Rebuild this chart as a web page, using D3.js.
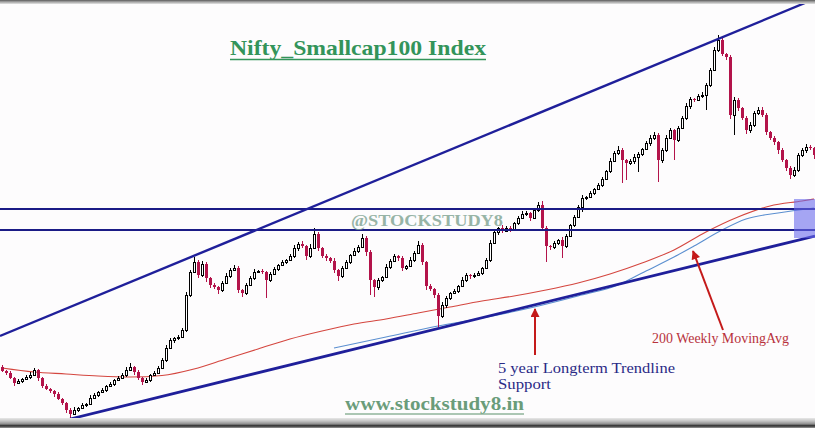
<!DOCTYPE html>
<html><head><meta charset="utf-8">
<script src="https://cdn.jsdelivr.net/npm/d3@7"></script>
<style>html,body{margin:0;padding:0;background:#fff;overflow:hidden}</style>
</head><body><svg id="c" width="815" height="428"></svg>
<script>
// Weekly closes (index points)
const closes = [2980,2940,2840,2740,2780,2820,2860,2900,3000,2840,
 2680,2620,2580,2520,2420,2340,2200,2120,2200,2240,
 2300,2320,2440,2500,2560,2600,2680,2720,2800,2840,
 2900,3000,3060,2960,2840,2760,2800,2900,2940,3040,
 3200,3440,3600,3640,3660,3800,4500,4960,5160,4900,
 5120,4840,4700,4660,4600,4740,4880,5000,5040,4600,
 4540,4700,4840,4960,4980,4960,4800,4920,5020,5100,
 5160,5200,5280,5440,5520,5480,5280,5440,5720,5440,
 5280,5240,5180,5000,4880,5040,5160,5300,5380,5460,
 5640,5360,4800,4660,4800,4860,5060,5180,5280,5240,
 5040,5080,5200,5340,5500,5160,4680,4620,4500,4080,
 4300,4440,4540,4580,4680,4800,4900,4880,4900,4940,
 5040,5200,5540,5760,5840,5780,5840,5800,5940,6040,
 6120,6140,6040,6200,6300,5840,5480,5460,5540,5600,
 5480,5680,5900,6060,6260,6440,6460,6540,6620,6700,
 6820,6980,7180,7340,7400,7200,7140,7180,7260,7320,
 7420,7540,7640,7700,7200,7400,7640,7800,7600,7840,
 8040,8280,8420,8400,8480,8500,8700,9000,9400,9600,
 9320,9260,8100,8400,8240,8040,7800,7900,8140,8200,
 8100,7760,7640,7560,7400,7200,7040,6900,7000,7300,
 7400,7460,7440,7300];
const firstOpen = 3060;
const upperWick = [40,20,40,20,40,20,40,60,40,20,
 20,40,20,20,40,20,20,40,60,20,
 40,20,60,40,20,40,20,40,20,40,
 40,60,80,20,40,20,40,20,40,40,
 40,60,40,20,40,40,60,40,100,40,
 60,40,20,40,20,40,60,40,60,40,
 20,40,40,60,20,40,20,40,40,20,
 40,20,40,60,40,60,20,80,120,40,
 20,40,20,60,20,40,40,20,60,40,
 80,40,40,20,40,20,60,40,40,20,
 40,20,60,40,80,40,20,40,20,40,
 60,40,20,40,20,60,40,20,40,40,
 20,40,60,40,20,60,40,40,20,40,
 60,40,20,40,60,80,40,20,40,20,
 60,40,20,40,40,60,20,40,20,40,
 40,20,60,40,80,40,20,40,60,40,
 20,40,60,60,40,40,60,40,20,40,
 40,60,40,20,40,60,40,40,60,100,
 40,20,40,60,40,20,40,60,40,60,
 60,40,20,40,20,40,20,40,60,40,
 40,60,40,20];
const lowerWick = [20,40,20,60,20,40,20,40,20,60,
 40,20,40,60,20,40,60,80,20,40,
 20,40,20,20,40,20,40,20,40,20,
 20,40,20,60,40,60,20,40,20,20,
 20,40,20,60,40,20,40,40,20,60,
 40,80,60,40,80,40,20,40,20,60,
 80,40,20,40,20,40,360,40,20,40,
 20,40,20,40,60,40,80,40,20,60,
 40,60,40,60,100,40,20,40,20,40,
 20,80,300,200,60,40,20,40,20,60,
 60,40,20,40,20,60,80,40,60,220,
 40,60,40,20,40,20,40,60,40,20,
 40,20,40,20,60,40,20,40,20,40,
 20,40,60,20,40,60,320,60,40,40,
 240,40,20,40,20,100,40,20,40,20,
 40,20,40,20,40,460,340,40,60,300,
 40,20,60,40,440,60,40,20,400,40,
 20,40,60,40,20,40,300,40,20,40,
 40,60,80,400,60,40,80,60,40,40,
 40,60,40,60,80,40,60,80,40,40,
 40,60,40,80];
// 200 weekly moving average (red)
const maWeeks  = [0,8,16,24,32,40,48,56,64,72,80,88,96,104,112,120,128,136,144,152,160,168,176,184,192,200,203];
const maValues = [3040,2960,2920,2880,2860,2890,3020,3220,3420,3620,3780,3920,4020,4140,4260,4380,4480,4600,4740,4920,5140,5400,5760,6060,6280,6380,6420];
// second (blue) moving average
const ma2Weeks  = [83,96,109,120,132,144,154,161,168,173,180,186,194,203];
const ma2Values = [3440,3660,3880,4040,4240,4480,4700,4980,5260,5480,5800,6020,6140,6240];
// drawn trendlines [week, level]
const supportLine = [[17,2020],[203.25,5680]];
const channelLine = [[-0.5,3680],[200.75,10340]];
const levels = [6220, 5800];
const zone = [[198,6420],[203.5,5640]];
const arrowSupport = [[133.25,3300],[133.25,4220]];
const arrowMA = [[180.25,3800],[172.75,5380]];

const svg = d3.select('#c');
const W = 815, H = 428;
const x = d3.scaleLinear().domain([0, closes.length-1]).range([2, 814]);
const y = d3.scaleLinear().domain([2040, 9640]).range([418, 38]);
const line = d3.line().x(d=>x(d[0])).y(d=>y(d[1]));

const defs = svg.append('defs');
defs.append('clipPath').attr('id','plot').append('rect').attr('x',0).attr('y',4).attr('width',W).attr('height',414);
const mk = defs.append('marker').attr('id','ah').attr('viewBox','0 0 10 10').attr('refX',9).attr('refY',5)
  .attr('markerWidth',5).attr('markerHeight',4.5).attr('orient','auto');
mk.append('path').attr('d','M0,0 L10,5 L0,10 z').attr('fill','#c41a1a');
const gt = defs.append('linearGradient').attr('id','gtop').attr('x1',0).attr('y1',0).attr('x2',0).attr('y2',1);
[[0,'#5a5a5a'],[0.4,'#9a9a9a'],[1,'#e4e4e4']].forEach(s=>gt.append('stop').attr('offset',s[0]).attr('stop-color',s[1]));
const gb = defs.append('linearGradient').attr('id','gbot').attr('x1',0).attr('y1',0).attr('x2',0).attr('y2',1);
[[0,'#e8e8e8'],[0.3,'#c4c4c4'],[0.6,'#8e8e8e'],[0.78,'#2a2a2a'],[0.9,'#6a6a6a'],[1,'#9a9a9a']].forEach(s=>gb.append('stop').attr('offset',s[0]).attr('stop-color',s[1]));

svg.append('rect').attr('width',W).attr('height',H).attr('fill','#fdfcfd');
const g = svg.append('g').attr('clip-path','url(#plot)');

// moving averages
g.append('path').datum(maWeeks.map((w,i)=>[w,maValues[i]])).attr('d',line.curve(d3.curveMonotoneX))
  .attr('fill','none').attr('stroke','#d4463f').attr('stroke-width',1.1);
g.append('path').datum(ma2Weeks.map((w,i)=>[w,ma2Values[i]])).attr('d',line.curve(d3.curveMonotoneX))
  .attr('fill','none').attr('stroke','#5b8fd0').attr('stroke-width',1.1);
line.curve(d3.curveLinear);

// candles
const candles = closes.map((c,i)=>{const o = i===0?firstOpen:closes[i-1];
  return {i,o,c,h:Math.max(o,c)+upperWick[i],l:Math.min(o,c)-lowerWick[i],up:c>=o};});
const RED = '#b3134a';
const px = d=>Math.round(x(d.i));
const cg = g.append('g');
cg.selectAll('line.w').data(candles).join('line').attr('class','w')
  .attr('x1',d=>px(d)+0.5).attr('x2',d=>px(d)+0.5).attr('y1',d=>Math.round(y(d.h))).attr('y2',d=>Math.round(y(d.l)))
  .attr('stroke',d=>d.up?'#000':RED).attr('stroke-width',1);
cg.selectAll('rect.b').data(candles).join('rect').attr('class','b')
  .attr('x',d=>d.up?px(d)-0.5:px(d)-1)
  .attr('width',d=>d.up?2:3)
  .attr('y',d=>Math.round(y(Math.max(d.o,d.c)))+(d.up?0.5:0))
  .attr('height',d=>Math.max(1,Math.round(Math.abs(y(d.o)-y(d.c)))))
  .attr('fill',d=>d.up?'#fff':RED)
  .attr('stroke',d=>d.up?'#000':'none').attr('stroke-width',1);

// horizontal levels
g.selectAll('line.lv').data(levels).join('line').attr('class','lv')
  .attr('x1',0).attr('x2',W).attr('y1',d=>y(d)).attr('y2',d=>y(d))
  .attr('stroke','#1b1b86').attr('stroke-width',2.2);
// trendlines
g.append('path').attr('d',line(supportLine)).attr('stroke','#1f1f9a').attr('stroke-width',2.8).attr('fill','none');
g.append('path').attr('d',line(channelLine)).attr('stroke','#1f1f9a').attr('stroke-width',2.4).attr('fill','none');
// zone
g.append('rect').attr('x',x(zone[0][0])).attr('width',x(zone[1][0])-x(zone[0][0]))
  .attr('y',y(zone[0][1])).attr('height',y(zone[1][1])-y(zone[0][1]))
  .attr('fill','#6a6aec').attr('opacity',0.6);

// arrows
[arrowSupport, arrowMA].forEach(a=>{
  g.append('path').attr('d',line(a)).attr('stroke','#c41a1a').attr('stroke-width',2).attr('fill','none').attr('marker-end','url(#ah)');
});

// texts
const serif = "'Liberation Serif','DejaVu Serif',serif";
function txt(s, tx, ty, size, color, weight, len){
  return svg.append('text').attr('x',tx).attr('y',ty).attr('font-family',serif).attr('font-size',size)
   .attr('font-weight',weight).attr('fill',color).attr('textLength',len).attr('lengthAdjust','spacingAndGlyphs').text(s);
}
txt('Nifty_Smallcap100 Index',230,55,21.5,'#33945a','bold',256);
svg.append('line').attr('x1',230).attr('x2',486).attr('y1',59.5).attr('y2',59.5).attr('stroke','#33945a').attr('stroke-width',1.6);
txt('@STOCKSTUDY8',351,226,16.5,'#86a898','bold',152).attr('opacity',0.85);
txt('www.stockstudy8.in',345,410,19,'#6a9c7a','bold',179);
svg.append('line').attr('x1',345).attr('x2',524).attr('y1',414).attr('y2',414).attr('stroke','#8fb49a').attr('stroke-width',1.3);
txt('200 Weekly MovingAvg',652,343,14.5,'#b8323c','normal',137);
txt('5 year Longterm Trendline',498,373,15,'#2a2a86','normal',177);
txt('Support',498,389,15,'#2a2a86','normal',53);

// frame bars
svg.append('rect').attr('x',0).attr('y',0).attr('width',W).attr('height',4).attr('fill','url(#gtop)');
svg.append('rect').attr('x',0).attr('y',418).attr('width',W).attr('height',10).attr('fill','url(#gbot)');
</script></body></html>
